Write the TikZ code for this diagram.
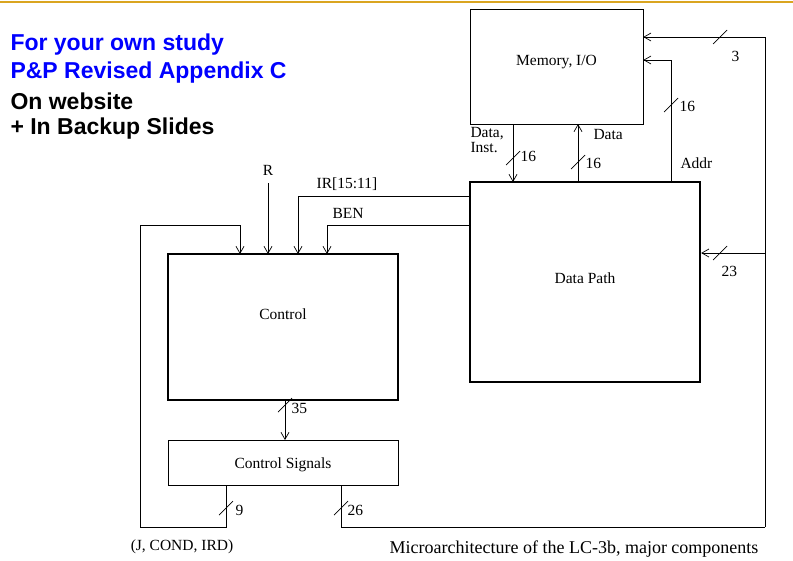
\documentclass[tikz,border=0pt]{standalone}
\usepackage{fontspec}
\setmainfont{Liberation Serif}
\newfontfamily\sansf{Liberation Sans}
\usetikzlibrary{arrows.meta}
\begin{document}
\begin{tikzpicture}[x=1pt,y=-1pt,
  box/.style={draw,line width=0.7pt,inner sep=0},
  tbox/.style={draw,line width=2.4pt,inner sep=0},
  w/.style={line width=0.7pt},
  ar/.style={w,-{Straight Barb[length=7pt,width=8pt]}},
  lab/.style={font=\fontsize{15.5}{16}\selectfont},
  hd/.style={font=\sansf\bfseries\fontsize{23}{25}\selectfont,anchor=west}]
\useasboundingbox (0,0) rectangle (793,560);
\definecolor{gold}{RGB}{218,165,32}
\draw[gold,line width=1.2pt] (0,2) -- (793,2);
\node[hd,text={rgb,255:red,0;green,0;blue,255}] (h1) at (7,45) {For your own study};
\node[hd,text={rgb,255:red,0;green,0;blue,255}] (h2) at (7,73) {P\&P Revised Appendix C};
\node[hd] (h3) at (7,101) {On website};
\node[hd] (h4) at (7,129) {+ In Backup Slides};
% boxes
\node[box,minimum width=173pt,minimum height=115pt] (mem) at (556.5,66.5) {};
\node[lab] at (556.5,62) {Memory, I/O};
\node[tbox,minimum width=230pt,minimum height=200pt] (dp) at (585,282) {};
\node[lab] at (585,278) {Data Path};
\node[tbox,minimum width=230pt,minimum height=146pt] (ctl) at (283,327) {};
\node[lab] at (283,314) {Control};
\node[box,minimum width=230pt,minimum height=45pt] (cs) at (283,462.5) {};
\node[lab] at (283,465) {Control Signals};
% coordinates
\coordinate (rt) at (765,37);
\coordinate (rb) at (765,527);
\draw[ar] (rb) -- (rt) -- (mem.east|-rt);
\draw[ar] (765,253) -- (dp.east|-0,253);
\draw[ar] (671,182) -- (671,60) -- (mem.east|-0,60);
\draw[ar] (513,124) -- (513,182);
\draw[ar] (578,182) -- (578,124);
\draw[ar] (470,196) -- (298,196) -- (298,254);
\draw[ar] (470,225) -- (327,225) -- (327,254);
\draw[ar] (268,183) -- (268,254);
\draw[ar] (226,485) -- (226,527) -- (140,527) -- (140,225) -- (240,225) -- (240,254);
\draw[w] (341,485) -- (341,527) -- (rb);
\draw[ar] (285,400) -- (285,440);
% slashes
\foreach \x/\y in {720/37,671/105,513/158,578/162,720/253,285/405,226/508,341/508}
  \draw[w] (\x-7,\y+7) -- (\x+7,\y-7);
\node[lab,anchor=west] at (728,56) {3};
\node[lab,anchor=west] at (676,106) {16};
\node[lab,anchor=west] at (517,156) {16};
\node[lab,anchor=west] at (582,163) {16};
\node[lab,anchor=west] at (718,271) {23};
\node[lab,anchor=west] at (288,408) {35};
\node[lab,anchor=west] at (232,510) {9};
\node[lab,anchor=west] at (344,510) {26};
\node[lab,anchor=west] at (467,134) {Data,};
\node[lab,anchor=west] at (467,148) {Inst.};
\node[lab,anchor=west] at (590,134) {Data};
\node[lab,anchor=west] at (677,163) {Addr};
\node[lab] at (268,170) {R};
\node[lab] at (347,184) {IR[15:11]};
\node[lab] at (348,213) {BEN};
\node[lab] at (182,547) {(J, COND, IRD)};
\node[font=\fontsize{18}{19}\selectfont] at (574,549) {Microarchitecture of the LC-3b, major components};
\end{tikzpicture}
\end{document}
